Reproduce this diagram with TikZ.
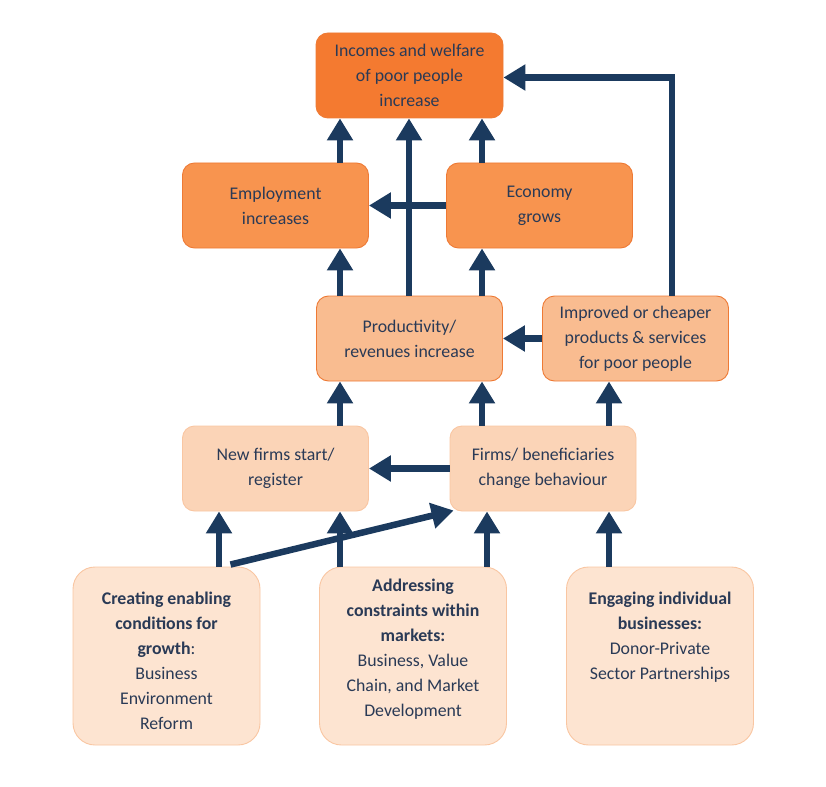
\documentclass[tikz,border=0pt]{standalone}
\usepackage{fontspec}
\setmainfont{Carlito}
\usepackage{xcolor}
\usepackage{tikz}
\usetikzlibrary{arrows.meta}
\usetikzlibrary{positioning}

\definecolor{navy}{HTML}{1B3A5E}
\definecolor{inktext}{HTML}{2A3A56}
\definecolor{lvlone}{HTML}{F47A30}
\definecolor{lvltwo}{HTML}{F8944F}
\definecolor{lvlthree}{HTML}{F9BC90}
\definecolor{lvlfour}{HTML}{FBD4B7}
\definecolor{lvlfive}{HTML}{FDE4D1}
\definecolor{edgedark}{HTML}{EE7A35}
\definecolor{edgelight}{HTML}{F9C6A2}

\tikzset{
	box/.style={draw, line width=0.9pt, rounded corners=12pt, align=center,
		minimum height=85pt, text=inktext,
		font=\fontsize{17.8}{25}\selectfont},
	levelone/.style={box, fill=lvlone, draw=edgedark, minimum width=187pt},
	leveltwo/.style={box, fill=lvltwo, draw=edgedark, minimum width=186pt},
	levelthree/.style={box, fill=lvlthree, draw=edgedark, minimum width=186pt},
	levelfour/.style={box, fill=lvlfour, draw=edgelight, minimum width=186pt},
	basebox/.style={box, fill=lvlfive, draw=edgelight, rounded corners=22pt,
		minimum width=187pt, minimum height=178pt},
	basetext/.style={align=center, text=inktext, inner sep=0pt,
		font=\fontsize{17.8}{25}\selectfont},
	link/.style={draw=navy, line width=6.5pt,
		-{Triangle[length=22pt,width=25pt]}},
}

\begin{document}
\begin{tikzpicture}[x=1pt,y=-1pt]
	\useasboundingbox (0,0) rectangle (826,786);

	% outcome boxes
	\node[levelone] (incomes) at (409.5,75.5) {Incomes and welfare\\of poor people\\increase};
	\node[leveltwo] (employment) at (275.5,205.5) {Employment\\increases};
	\node[leveltwo] (economy) at (539.5,205.5) {Economy\\grows};
	\node[levelthree] (productivity) at (409.5,338.5) {Productivity/\\revenues increase};
	\node[levelthree] (improved) at (635.5,338.5) {Improved or cheaper\\products \& services\\for poor people};
	\node[levelfour] (newfirms) at (275.5,468.5) {New firms start/\\register};
	\node[levelfour] (firms) at (543,468.5) {Firms/ beneficiaries\\change behaviour};

	% intervention boxes
	\node[basebox] (creating) at (166.5,656) {};
	\node[basebox] (addressing) at (413,656) {};
	\node[basebox] (engaging) at (660,656) {};
	\node[basetext, below=25pt of creating.north] (creatingtext)
		{\textbf{Creating enabling}\\\textbf{conditions for}\\\textbf{growth}:\\Business\\Environment\\Reform};
	\node[basetext, below=12pt of addressing.north] (addressingtext)
		{\textbf{Addressing}\\\textbf{constraints within}\\\textbf{markets:}\\Business, Value\\Chain, and Market\\Development};
	\node[basetext, below=25pt of engaging.north] (engagingtext)
		{\textbf{Engaging individual}\\\textbf{businesses:}\\Donor-Private\\Sector Partnerships};

	% arrow columns
	\coordinate (colA) at (219,0);
	\coordinate (colB) at (340,0);
	\coordinate (colC) at (409,0);
	\coordinate (colD) at (482,0);
	\coordinate (colE) at (487,0);
	\coordinate (colF) at (609,0);
	\coordinate (colG) at (672,0);

	\draw[link] (employment.north -| colB) -- (incomes.south -| colB);
	\draw[link] (productivity.north -| colC) -- (incomes.south -| colC);
	\draw[link] (economy.north -| colD) -- (incomes.south -| colD);
	\draw[link] (improved.north -| colG) |- ([yshift=-2pt]incomes.east);
	\draw[link] (economy.west) -- (employment.east);
	\draw[link] (productivity.north -| colB) -- (employment.south -| colB);
	\draw[link] (productivity.north -| colD) -- (economy.south -| colD);
	\draw[link] (improved.west) -- (productivity.east);
	\draw[link] (newfirms.north -| colB) -- (productivity.south -| colB);
	\draw[link] (firms.north -| colD) -- (productivity.south -| colD);
	\draw[link] (firms.north -| colF) -- (improved.south -| colF);
	\draw[link] (firms.west) -- (newfirms.east);
	\draw[link] (creating.north -| colA) -- (newfirms.south -| colA);
	\draw[link] (addressing.north -| colB) -- (newfirms.south -| colB);
	\draw[link] (addressing.north -| colE) -- (firms.south -| colE);
	\draw[link] (engaging.north -| colF) -- (firms.south -| colF);
	\draw[link] ([xshift=64pt,yshift=2pt]creating.north) -- ([xshift=4pt,yshift=1pt]firms.south west);
\end{tikzpicture}
\end{document}
